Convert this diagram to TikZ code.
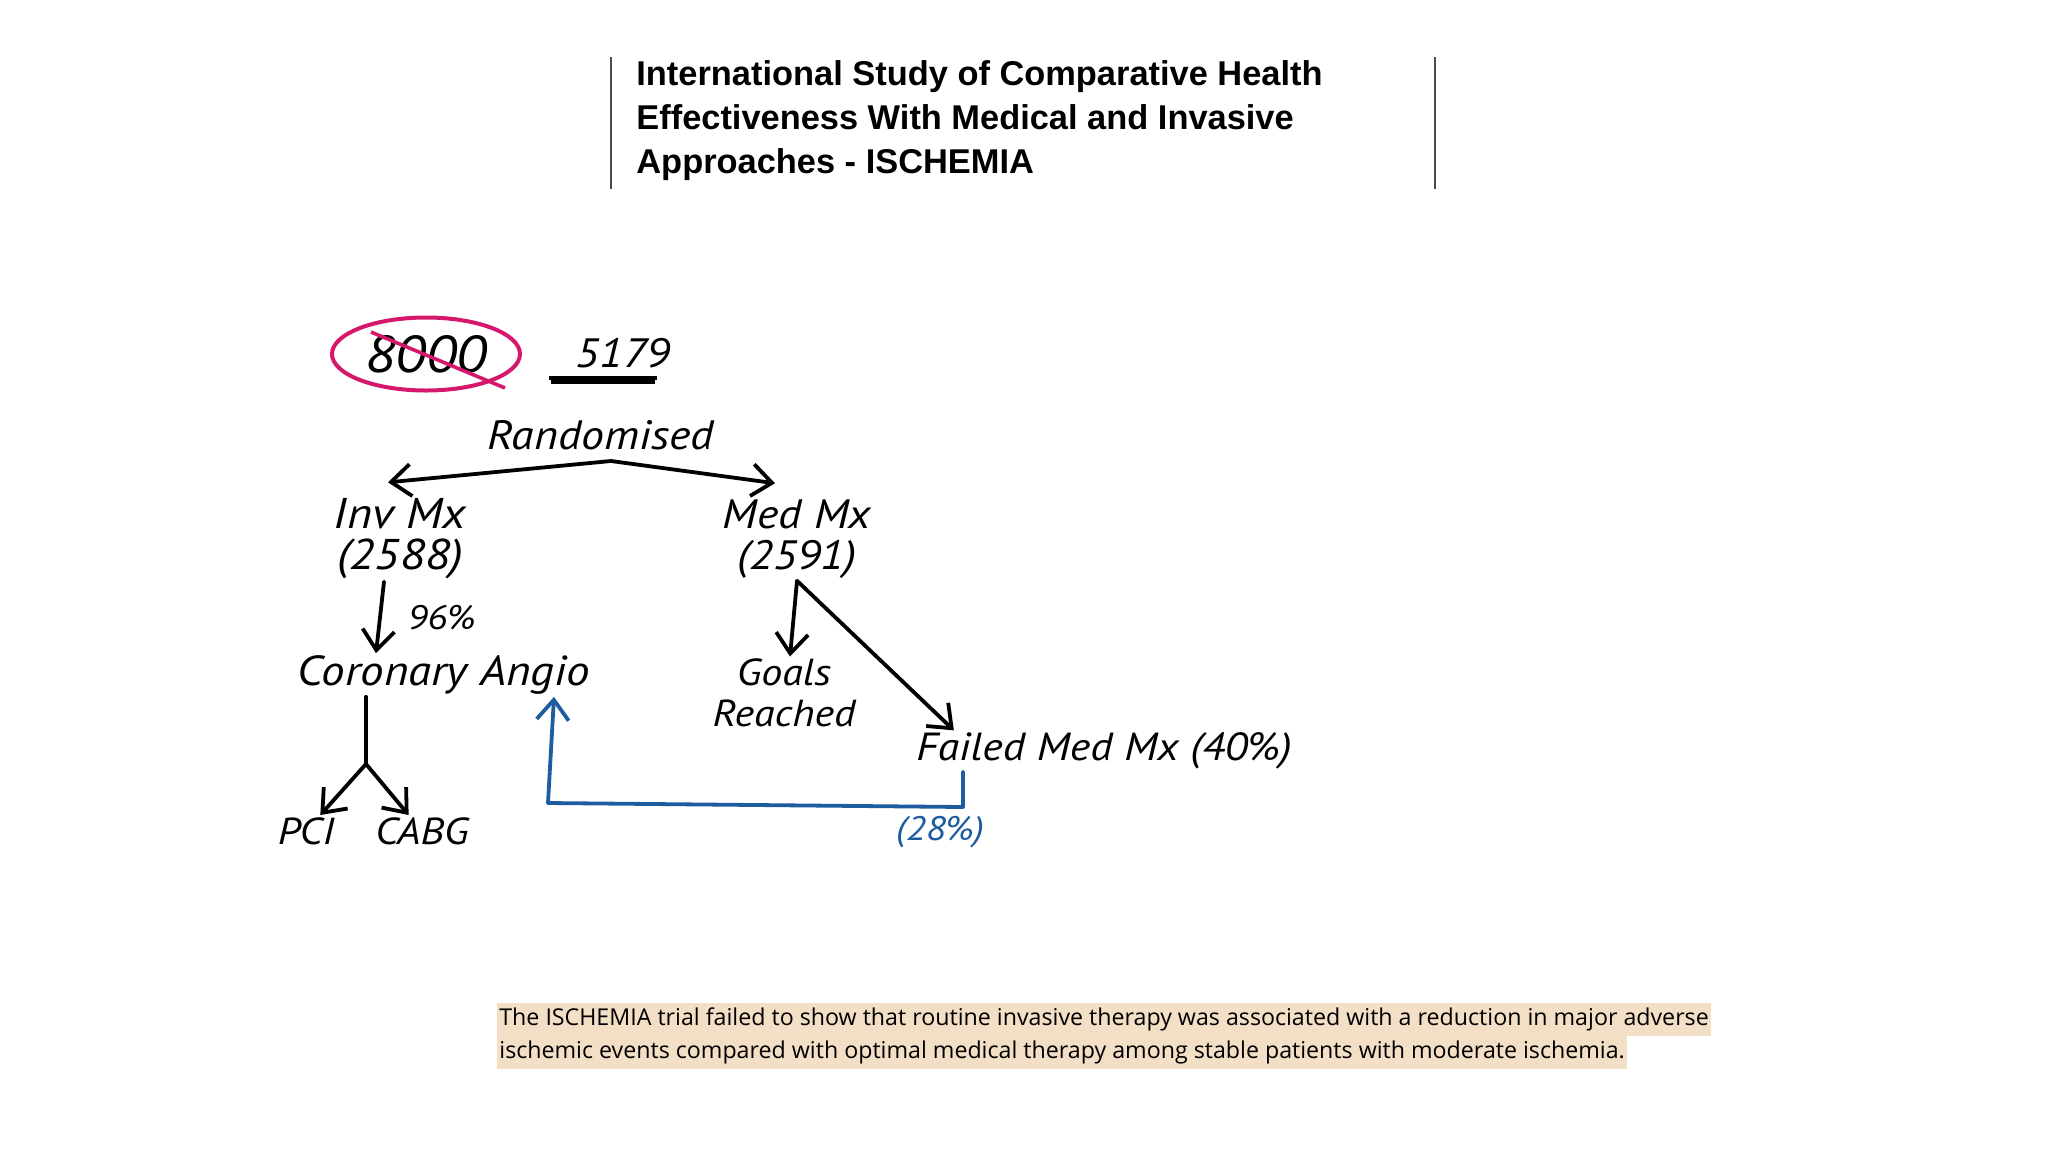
\documentclass[tikz,border=0pt]{standalone}
\usepackage{fontspec}
\setmainfont{Liberation Sans}
\newfontfamily\handfont[FakeStretch=1.12]{PT Sans}
\newfontfamily\notefont{Open Sans}
\usetikzlibrary{positioning,arrows.meta,shapes.geometric}
\definecolor{cMag}{RGB}{214,24,108}
\definecolor{cBlue}{RGB}{30,92,160}
\definecolor{cHi}{RGB}{243,222,198}

\begin{document}
\begin{tikzpicture}[
  x=0.5pt, y=-0.5pt,
  head/.style  = {align=left, anchor=north west, inner sep=0pt,
                  font=\bfseries\fontsize{17.2}{22}\selectfont},
  hand/.style  = {align=center, inner sep=1pt,
                  font=\handfont\itshape\fontsize{18.8}{20.5}\selectfont},
  big/.style   = {hand, font=\handfont\itshape\fontsize{20.5}{24}\selectfont},
  flow/.style  = {-{Straight Barb[length=10pt, width=16pt]}, line width=1.9pt,
                  line cap=round, line join=round},
  back/.style  = {flow, draw=cBlue},
  pct/.style   = {hand, font=\handfont\itshape\fontsize{17}{18}\selectfont},
  note/.style  = {anchor=west, fill=cHi, inner xsep=1pt, inner ysep=0pt,
                  minimum height=16.5pt,
                  font=\notefont\fontsize{11.6}{16.5}\selectfont}
]
\useasboundingbox (0,0) rectangle (2048,1152);

% ---------------------------------------------------------------- titolo --
\node[head] (title) at (636,60) {International Study of Comparative Health\\
  Effectiveness With Medical and Invasive\\
  Approaches - ISCHEMIA};
\draw[line width=1pt, black!70] (611,57) -- (611,189);
\draw[line width=1pt, black!70] (1435,57) -- (1435,189);

% --------------------------------------------------------- i numeri --
\node[big, ellipse, draw=cMag, line width=2pt, minimum width=94pt,
      minimum height=36.5pt, inner sep=0pt,
      font=\handfont\itshape\fontsize{26}{30}\selectfont] (old) at (426,354) {8000};
\draw[cMag, line width=1.8pt] ([shift={(-27.5pt,11pt)}]old.center)
  -- ([shift={(39.5pt,-17pt)}]old.center);
\node[big] (total) at (623,353) {5179};
\draw[line width=2.2pt] ([xshift=-12pt,yshift=-4pt]total.south west)
  -- ([xshift=-8pt,yshift=-4pt]total.south east);
\draw[line width=2.2pt] ([xshift=-11pt,yshift=-6pt]total.south west)
  -- ([xshift=-9pt,yshift=-6pt]total.south east);

% --------------------------------------------------------- l'albero --
\node[big] (rand) at (601,435) {Randomised};
\coordinate (peak) at (611,461);
\node[hand, font=\handfont\itshape\fontsize{21.5}{20.5}\selectfont]
  (inv)   at (400,539) {Inv Mx\\(2588)};
\node[hand, font=\handfont\itshape\fontsize{20.5}{20.5}\selectfont]
  (med)   at (797,539) {Med Mx\\(2591)};
\node[hand, font=\handfont\itshape\fontsize{21}{20.5}\selectfont]
  (angio) at (444,675) {Coronary Angio};
\node[hand] (pci)   at (306,831) {PCI};
\node[hand] (cabg)  at (422,831) {CABG};
\node[hand] (goals) at (784,693) {Goals\\Reached};
\node[hand, font=\handfont\itshape\fontsize{19.6}{20.5}\selectfont]
  (fail)  at (1104,751) {Failed Med Mx (40\%)};
\coordinate (fork) at (366,764);

\draw[flow] (peak) -- ([xshift=-6pt,yshift=7pt]inv.north);
\draw[flow] (peak) -- ([xshift=-11pt,yshift=7pt]med.north);
\draw[flow] ([xshift=-8pt]inv.south) -- ([xshift=-34pt]angio.north)
  node[pct, midway, right=12pt] (p96) {96\%};
\draw[line width=1.9pt, line cap=round] (angio.south -| fork) -- (fork);
\draw[flow] (fork) -- (pci);
\draw[flow] (fork) -- (cabg);
\draw[flow] (med.south) -- ([xshift=3pt]goals.north);
\draw[flow] (med.south) -- ([xshift=20pt]fail.north west);

% ---------------------------------------------- ritorno all'angiografia --
\coordinate (bR) at (963,807);
\coordinate (bL) at (548,803);
\draw[back] (fail.south -| bR) -- (bR) -- (bL) -- ([xshift=3pt]bL |- angio.south);
\node[pct, text=cBlue] (p28) at (940,832) {(28\%)};

% ------------------------------------------------------------ la nota --
\node[note] (note1) at (497,1019) {The ISCHEMIA trial failed to show that routine invasive therapy was associated with a reduction in major adverse};
\node[note, below=0pt of note1.south west, anchor=north west] (note2) {ischemic events compared with optimal medical therapy among stable patients with moderate ischemia.};

\end{tikzpicture}
\end{document}
